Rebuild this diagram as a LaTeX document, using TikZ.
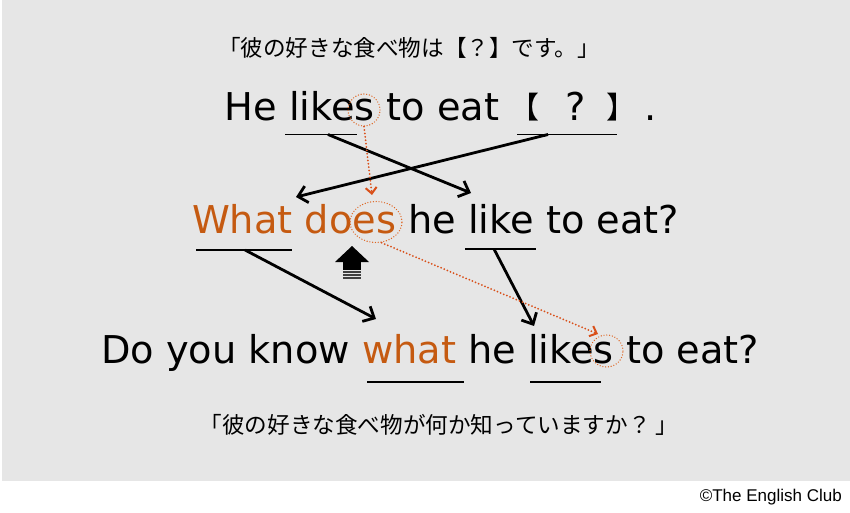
\documentclass[tikz,border=0pt]{standalone}
\usepackage{fontspec}
\setmainfont{DejaVu Sans}
\newfontfamily\cjk{Noto Sans CJK JP}
\newfontfamily\cpy{Liberation Sans}
\usetikzlibrary{arrows.meta,shapes.geometric}
\definecolor{bg}{HTML}{E6E6E6}
\definecolor{org}{HTML}{C55A11}
\definecolor{dorg}{HTML}{DE6420}
\definecolor{rorg}{HTML}{D9501A}
\begin{document}
\begin{tikzpicture}[x=1pt,y=-1pt,
  w/.style={inner sep=0pt, outer sep=0pt, anchor=base west, font=\fontsize{38.3}{40}\selectfont},
  jp/.style={inner sep=0pt, font=\cjk\fontsize{22.6}{24}\selectfont},
  ul/.style={line width=1.6pt},
  blk/.style={line width=2.8pt, -{Straight Barb[length=9pt,width=17pt]}},
  dots/.style={draw=rorg, line width=2pt, dash pattern=on 0pt off 3.4pt, line cap=round},
  dotarr/.style={dots, -{Straight Barb[length=6pt,width=11pt]}},
  ring/.style={draw=dorg, ellipse, inner sep=0pt, line width=1.4pt, dash pattern=on 0pt off 2.8pt, line cap=round}]
\useasboundingbox (0,0) rectangle (850,513);
\fill[bg] (1.5,0) rectangle (850,480.5);

% Japanese lines
\node[jp] (jp1) at (409,48) {「彼の好きな食べ物は【？】です。」};
\node[jp] (jp2) at (439,425) {「彼の好きな食べ物が何か知っていますか？ 」};

% line 1
\node[w] (he1) at (224.5,121) {He};
\node[w] (likes1) at (he1.base east) {\ likes};
\node[w] (toeat1) at (likes1.base east) {\ to eat};
\node[inner sep=0pt, anchor=base, font=\cjk\fontsize{30}{32}\selectfont] (br1) at (524,119) {【};
\node[w, anchor=base] (q1) at (575.5,121) {?};
\node[inner sep=0pt, anchor=base, font=\cjk\fontsize{30}{32}\selectfont] (br2) at (621,119) {】};
\node[w, anchor=base] (dot1) at (651,121) {.};

% line 2
\node[w, text=org] (what2) at (192,233.5) {What};
\node[w, text=org] (does2) at (what2.base east) {\ does};
\node[w] (he2) at (does2.base east) {\ he};
\node[w] (like2) at (he2.base east) {\ like};
\node[w] (rest2) at (like2.base east) {\ to eat?};

% line 3
\node[w] (do3) at (101,363) {Do you know};
\node[w, text=org] (what3) at (do3.base east) {\ what};
\node[w] (he3) at (what3.base east) {\ he};
\node[w] (likes3) at (he3.base east) {\ likes};
\node[w] (rest3) at (likes3.base east) {\ to eat?};

% copyright
\node[anchor=base east, inner sep=0pt, font=\cpy\fontsize{17}{18}\selectfont] (copy) at (842,501) {©The English Club};

% underlines
\coordinate (u1a) at (285,134.5); \coordinate (u1b) at (357,134.5);
\coordinate (u1c) at (517,134.5); \coordinate (u1d) at (617,134.5);
\coordinate (u2a) at (196,250); \coordinate (u2b) at (292,250);
\coordinate (u2c) at (465,249); \coordinate (u2d) at (536,249);
\coordinate (u3a) at (367,382); \coordinate (u3b) at (464,382);
\coordinate (u3c) at (530,382); \coordinate (u3d) at (601,382);
\draw[ul] (u1a) -- (u1b);
\draw[ul] (u1c) -- (u1d);
\draw[ul] (u2a) -- (u2b);
\draw[ul] (u2c) -- (u2d);
\draw[ul] (u3a) -- (u3b);
\draw[ul] (u3c) -- (u3d);

% black arrows
\coordinate (s1) at (328,134.5); \coordinate (t1) at (471,193);
\coordinate (s2) at (548,134.5); \coordinate (t2) at (296,197);
\coordinate (s3) at (245,250); \coordinate (t3) at (376,319);
\coordinate (s4) at (494,249); \coordinate (t4) at (534,326);
\draw[blk] (s1) -- (t1);
\draw[blk] (s2) -- (t2);
\draw[blk] (s3) -- (t3);
\draw[blk] (s4) -- (t4);

% orange rings and dotted arrows
\node[ring, minimum width=32pt, minimum height=32pt] (c1) at (364,110) {};
\node[ring, minimum width=52pt, minimum height=41pt] (c2) at (376,222) {};
\node[ring, minimum width=33pt, minimum height=32pt] (c3) at (606.5,351) {};
\coordinate (d1) at (372,195);
\coordinate (d2) at (598,334);
\draw[dotarr] (c1.south) -- (d1);
\draw[dotarr] (c2.-75) -- (d2);

% up block arrow
\fill (335,262) -- (352,246) -- (369,262) -- cycle;
\fill (343,261.5) rectangle (361,270);
\fill[black!75] (343,271.3) rectangle (361,272.8);
\fill[black!75] (343,274.3) rectangle (361,275.8);
\fill[black!75] (343,277.3) rectangle (361,278.8);
\end{tikzpicture}
\end{document}
